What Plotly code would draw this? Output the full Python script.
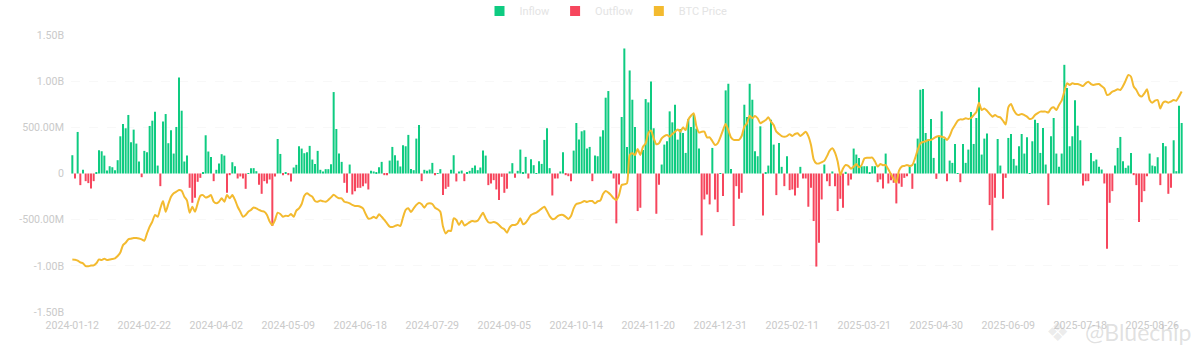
import pandas as pd
import plotly.graph_objects as go

# ---------------- data ----------------
start_date = "2024-01-12"
market_holidays = [
    "2024-01-15", "2024-02-19", "2024-03-29", "2024-05-27", "2024-06-19",
    "2024-07-04", "2024-09-02", "2024-11-28", "2024-12-25", "2025-01-01",
    "2025-01-09", "2025-01-20", "2025-02-17", "2025-04-18", "2025-05-26",
    "2025-06-19", "2025-07-04", "2025-09-01",
]
tick_labels = [
    "2024-01-12", "2024-02-22", "2024-04-02", "2024-05-09", "2024-06-18",
    "2024-07-29", "2024-09-05", "2024-10-14", "2024-11-20", "2024-12-31",
    "2025-02-11", "2025-03-21", "2025-04-30", "2025-06-09", "2025-07-18",
    "2025-08-26",
]
y_tick_vals = [-1500, -1000, -500, 0, 500, 1000, 1500]
y_tick_text = ["-1.50B", "-1.00B", "-500.00M", "0", "500.00M", "1.00B", "1.50B"]

# daily net flow, USD millions
net_flow_musd = [
    198, -54, 450, -126, 40, -83, -104, -162, -83, 14,
    252, 241, 194, 32, 79, 68, 36, 144, 403, 536,
    490, 634, 338, 475, 324, 130, -40, 245, 230, 515,
    572, 670, 86, -137, 562, 644, 328, 468, 216, 504,
    1040, 680, 130, 194, -155, -317, -263, -90, -47, 7,
    414, 238, 180, -83, 40, 108, 209, 194, -209, -18,
    122, 79, -54, -32, -54, -166, 4, 58, 58, 25,
    -122, -220, -83, -108, -65, -569, -32, 374, 212, -18,
    14, -18, -86, 65, 94, 295, 270, 220, 230, 299,
    151, 104, 245, 40, 22, 47, 47, 101, 882, 482,
    216, 126, -101, -209, 97, -227, -191, -155, -155, -137,
    -108, -173, 29, 22, 11, 68, 126, -18, -18, 140,
    288, 198, 140, 76, 306, 295, 418, 50, 36, 378,
    526, -83, 40, 29, 43, 115, -18, 4, 47, -234,
    -166, -144, 40, 198, -86, 22, 32, -83, 11, 29,
    61, 86, 36, 65, 248, 194, -126, -108, -72, -173,
    -288, -36, -209, -166, 22, 112, -47, 29, 259, 11,
    180, -54, 155, 90, 4, 133, 104, 364, 490, 58,
    -238, -54, -54, 22, 230, -18, -29, -83, 248, 547,
    367, 457, 468, 270, 288, -83, 194, 187, 400, 468,
    821, 893, 29, -54, -540, -119, 612, 1354, 288, 1116,
    799, 504, -407, -371, 255, 806, 770, 997, 490, -436,
    -122, 97, 313, 349, 673, 554, 745, 367, 482, 439,
    223, 590, 504, 637, 486, 270, -670, -281, -227, -335,
    277, -281, -418, 5, -245, 900, 972, 50, -569, -137,
    -274, -209, 745, 612, 972, 799, 241, 187, 511, -454,
    14, 86, 583, 313, -234, 331, 72, -137, 187, -180,
    -173, -238, -155, 72, -54, -54, -360, -155, -515, -1008,
    -749, -281, 97, -83, -137, 22, -137, -407, -274, -371,
    18, -130, -65, 270, 205, 169, 79, 79, 79, 8,
    79, 79, -94, -65, -162, 216, -108, -72, -101, -324,
    -108, -144, -47, -29, 72, -166, 108, 378, 907, 914,
    439, 367, 590, 169, -58, 396, 673, 378, -83, 140,
    115, 320, 5, -94, 320, 115, 259, 666, 320, 601,
    932, 205, 378, 432, -342, -616, -263, 374, 86, -274,
    -47, 385, 428, 158, 86, 295, 428, 216, 392, 3,
    349, 583, 547, 223, 493, 97, -342, 403, 601, 216,
    72, 216, 1177, 925, 295, 403, 792, 518, 360, -130,
    -83, -83, 223, 133, 151, 72, 43, -108, -814, -317,
    -191, 86, 277, 396, 133, 61, 86, 223, -18, -126,
    -526, -310, -191, -29, 216, 86, 79, 176, -126, 331,
    295, -220, -155, 360, 25, 734, 547,
]

# BTC close, USD thousands
btc_price_kusd = [
    43.1, 43.0, 42.6, 41.8, 41.4, 40.2, 40.1, 40.4, 40.5, 41.4,
    43.1, 42.8, 43.4, 42.8, 43.1, 43.3, 43.6, 44.6, 46.1, 49.4,
    50.4, 51.9, 52.2, 52.5, 52.5, 52.3, 51.9, 51.3, 54.5, 57.5,
    59.7, 62.6, 61.8, 65.5, 68.7, 64.0, 67.4, 70.6, 72.1, 72.8,
    73.5, 73.2, 70.6, 68.9, 63.6, 66.2, 64.0, 67.7, 71.0, 71.3,
    70.2, 70.6, 71.3, 68.4, 67.7, 68.4, 69.9, 68.4, 71.3, 69.9,
    71.3, 69.2, 66.2, 64.0, 61.8, 62.6, 64.0, 64.8, 65.9, 65.5,
    64.8, 64.3, 64.0, 62.6, 59.7, 58.2, 60.4, 63.6, 63.0, 61.8,
    62.3, 62.1, 63.0, 61.8, 64.5, 65.5, 67.4, 71.0, 72.1, 71.3,
    70.6, 68.7, 68.4, 68.9, 68.6, 68.4, 69.2, 70.3, 71.5, 70.6,
    69.9, 69.9, 68.4, 68.1, 67.7, 67.0, 66.5, 66.5, 66.2, 65.5,
    63.0, 61.0, 61.1, 61.8, 61.1, 62.9, 61.8, 60.4, 58.9, 57.5,
    57.3, 57.8, 58.2, 57.8, 61.5, 64.8, 65.5, 63.9, 65.5, 67.0,
    68.0, 67.3, 65.8, 67.4, 67.7, 67.4, 65.8, 65.1, 64.0, 57.5,
    54.5, 55.7, 55.6, 61.1, 60.4, 58.2, 60.1, 58.0, 58.6, 59.4,
    59.9, 59.7, 60.1, 61.8, 63.6, 61.1, 59.4, 59.2, 59.5, 59.1,
    58.2, 57.0, 56.3, 54.8, 57.2, 58.2, 58.2, 58.9, 61.1, 58.5,
    59.2, 60.8, 62.6, 63.2, 63.6, 64.5, 65.4, 66.2, 64.3, 62.1,
    60.8, 61.0, 62.1, 62.6, 62.6, 61.8, 60.8, 62.1, 65.5, 67.4,
    67.7, 68.1, 68.7, 68.3, 68.7, 68.7, 67.7, 68.6, 68.9, 71.8,
    73.1, 72.4, 71.3, 69.9, 69.2, 71.3, 75.7, 76.0, 76.5, 88.9,
    89.6, 88.9, 91.5, 88.9, 92.5, 94.0, 98.4, 99.6, 96.2, 93.6,
    94.0, 96.2, 97.2, 97.7, 96.9, 98.1, 99.1, 100.1, 99.1, 101.0,
    99.8, 104.5, 106.1, 107.2, 101.6, 98.7, 99.1, 99.1, 96.6, 96.6,
    95.0, 93.3, 94.0, 96.6, 99.8, 102.5, 99.8, 96.6, 95.5, 95.5,
    95.5, 97.2, 101.3, 102.8, 106.1, 105.0, 106.0, 105.0, 102.8, 103.5,
    104.2, 105.4, 103.5, 102.0, 99.1, 98.1, 97.2, 96.9, 97.2, 98.0,
    97.2, 98.1, 98.4, 97.2, 98.1, 99.1, 97.2, 93.3, 87.0, 85.2,
    85.2, 85.7, 86.3, 88.4, 90.8, 91.8, 89.9, 86.0, 80.1, 83.0,
    84.5, 84.1, 82.9, 83.8, 84.9, 83.5, 84.5, 87.4, 87.7, 87.7,
    87.7, 86.0, 83.8, 84.9, 84.4, 84.5, 82.6, 80.5, 78.5, 76.8,
    82.0, 83.8, 84.1, 84.5, 84.1, 84.5, 87.4, 91.1, 94.0, 94.6,
    94.9, 95.5, 95.5, 96.2, 96.9, 97.2, 96.9, 96.6, 95.5, 97.2,
    100.1, 102.0, 103.9, 104.5, 104.5, 105.0, 104.7, 105.1, 106.4, 107.7,
    111.8, 108.6, 109.3, 108.3, 106.9, 105.7, 106.4, 105.7, 105.4, 103.9,
    102.3, 109.8, 111.3, 108.6, 106.9, 106.4, 106.9, 106.4, 105.7, 104.7,
    105.0, 106.4, 107.2, 107.9, 107.9, 107.9, 107.5, 109.3, 109.8, 108.6,
    110.8, 112.7, 116.7, 120.3, 119.6, 120.3, 120.0, 120.0, 119.6, 119.1,
    120.3, 121.0, 120.0, 119.6, 119.9, 120.0, 119.1, 118.1, 115.2, 115.6,
    116.7, 117.1, 117.7, 117.4, 119.1, 121.5, 124.0, 123.2, 118.9, 117.4,
    115.2, 114.5, 115.9, 117.7, 113.0, 111.8, 112.7, 113.0, 109.3, 111.8,
    112.3, 111.8, 112.3, 113.0, 112.7, 114.5, 116.7,
]

# ---------------- build ----------------
n = min(len(net_flow_musd), len(btc_price_kusd))
all_days = pd.bdate_range(start_date, periods=n + 60)
dates = [d.strftime("%Y-%m-%d") for d in all_days
         if d.strftime("%Y-%m-%d") not in market_holidays][:n]

inflow = [v if v > 0 else None for v in net_flow_musd[:n]]
outflow = [v if v < 0 else None for v in net_flow_musd[:n]]

GREEN = "#0ECB81"
RED = "#F6465D"
YELLOW = "#F3BA2F"

fig = go.Figure()
fig.add_trace(go.Bar(x=dates, y=inflow, name="Inflow", marker_color=GREEN,
                     marker_line_width=0, legendgroup="in", showlegend=False))
fig.add_trace(go.Bar(x=dates, y=outflow, name="Outflow", marker_color=RED,
                     marker_line_width=0, legendgroup="out", showlegend=False))
fig.add_trace(go.Scatter(x=dates, y=btc_price_kusd[:n], name="BTC Price", yaxis="y2",
                         mode="lines", line=dict(color=YELLOW, width=2, shape="spline", smoothing=0.6),
                         legendgroup="btc", showlegend=False))
# legend keys (square swatches)
for nm, col, grp in [("Inflow", GREEN, "in"), ("Outflow", RED, "out"), ("BTC Price", YELLOW, "btc")]:
    fig.add_trace(go.Scatter(x=[None], y=[None], mode="markers", name=nm, legendgroup=grp,
                             marker=dict(symbol="square", size=10, color=col)))

tick_font = dict(family="Roboto, DejaVu Sans, sans-serif", size=10.6, color="#cacaca")

# plot area on screen: x 71..1183, y 35..312
def px_x(px):
    return (px - 71) / 1112

def px_y(py):
    return (312 - py) / 277

fig.update_layout(
    width=1200, height=358,
    margin=dict(l=71, r=17, t=35, b=46, autoexpand=False),
    paper_bgcolor="white", plot_bgcolor="white",
    barmode="relative", bargap=0.25,
    showlegend=True,
    legend=dict(orientation="h", x=606 / 1200, xanchor="center", xref="container",
                y=1 - 11 / 358, yanchor="middle", yref="container",
                font=dict(family="Roboto, DejaVu Sans, sans-serif", size=11, color="#e4e4e4"),
                itemwidth=30, bgcolor="rgba(0,0,0,0)"),
    xaxis=dict(type="category", range=[-0.5, n - 0.5], tickmode="array",
               tickvals=tick_labels, ticktext=tick_labels, showgrid=False,
               zeroline=False, showline=False, ticks="", tickfont=tick_font,
               ticklabelstandoff=5, tickangle=0, automargin=False),
    yaxis=dict(range=[-1500, 1500], tickmode="array", tickvals=y_tick_vals,
               ticktext=y_tick_text, showgrid=True, gridcolor="#f8f8f8",
               griddash="dash", gridwidth=1, zeroline=False, showline=False,
               ticks="", tickfont=tick_font, ticklabelstandoff=6, automargin=False),
    yaxis2=dict(overlaying="y", range=[20.05, 141.5], visible=False),
    annotations=[
        dict(text="❖", xref="paper", yref="paper", x=px_x(1057), y=px_y(332),
             xanchor="center", yanchor="middle", showarrow=False,
             font=dict(family="DejaVu Sans, sans-serif", size=26, color="rgba(190,190,190,0.3)")),
        dict(text="@Bluechip", xref="paper", yref="paper", x=px_x(1194), y=px_y(332),
             xanchor="right", yanchor="middle", showarrow=False,
             font=dict(family="Lato, DejaVu Sans, sans-serif", size=23,
                       color="rgba(175,175,175,0.38)")),
    ],
)

# place the figure flush with the page's top-left corner, no toolbar
fig.write_html("out.html", config={"displayModeBar": False},
               post_script="document.body.style.margin='0';")
